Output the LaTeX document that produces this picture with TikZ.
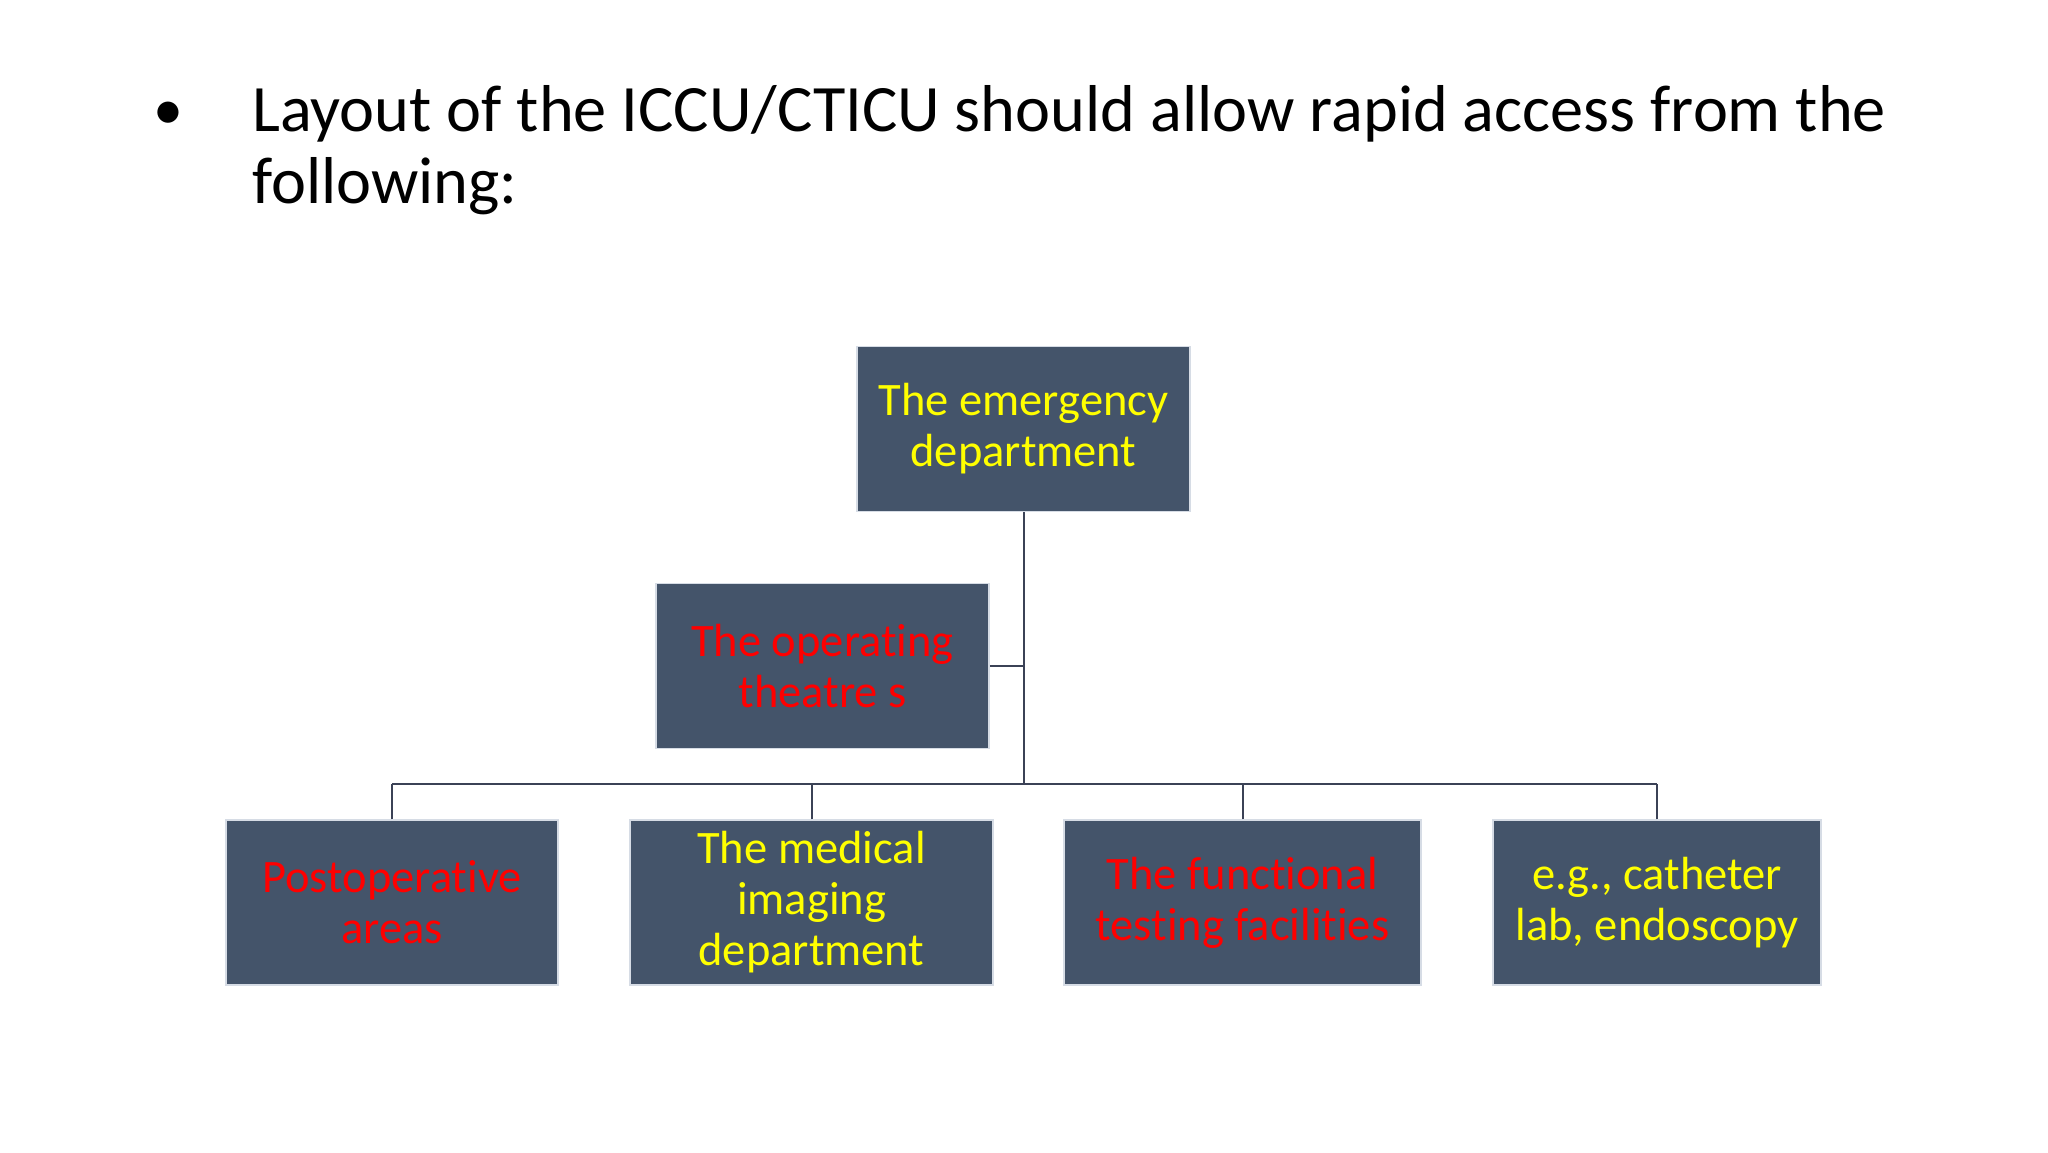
\documentclass[tikz,border=0pt]{standalone}
\usepackage{fontspec}
\setmainfont{Carlito}[Ligatures=NoCommon]
\definecolor{boxfill}{RGB}{68,84,106}
\definecolor{boxline}{RGB}{214,220,229}
\definecolor{conn}{RGB}{59,66,86}
\definecolor{ytext}{RGB}{255,255,0}
\definecolor{rtext}{RGB}{255,0,0}
\begin{document}
\begin{tikzpicture}[x=1pt,y=-1pt,
  orgbox/.style={fill=boxfill,draw=boxline,line width=1.5pt,minimum width=333pt,minimum height=165pt,
    inner sep=0pt,align=center,font=\fontsize{46.5}{51}\selectfont},
  yel/.style={text=ytext},
  red/.style={text=rtext},
  titletext/.style={anchor=base west,inner sep=0pt,font=\fontsize{66.3}{72}\selectfont},
  link/.style={draw=conn,line width=2pt}]
\useasboundingbox[fill=white] (0,0) rectangle (2048,1152);
% title
\node[anchor=base,inner sep=0pt,font=\fontsize{60}{66}\selectfont] (bul) at (168,129) {•};
\node[titletext] (t1) at (252,131) {Layout of the ICCU/CTICU should allow rapid access from the};
\node[titletext] (t2) at (252,203) {following:};
% boxes
\node[orgbox,yel] (em) at (1023.5,429) {The emergency\\department};
\node[orgbox,red] (op) at (822.5,666) {The operating\\theatre s};
\node[orgbox,red,minimum width=332pt] (post) at (392,902.5) {Postoperative\\areas};
\node[orgbox,yel,minimum width=363pt] (med) at (811.5,902.5) {The medical\\imaging\\department};
\node[orgbox,red,minimum width=357pt] (func) at (1242.5,902.5) {The functional\\testing facilities};
\node[orgbox,yel,minimum width=328pt] (cath) at (1657,902.5) {e.g., catheter\\lab, endoscopy};
% connectors
\coordinate (bus) at (1023.5,784);
\draw[link] (em.south) -- (bus);
\draw[link] (op.east) -- (op.east -| bus);
\draw[link] (post.north |- bus) -- (cath.north |- bus);
\draw[link] (post.north) -- (post.north |- bus);
\draw[link] (med.north) -- (med.north |- bus);
\draw[link] (func.north) -- (func.north |- bus);
\draw[link] (cath.north) -- (cath.north |- bus);
\end{tikzpicture}
\end{document}
